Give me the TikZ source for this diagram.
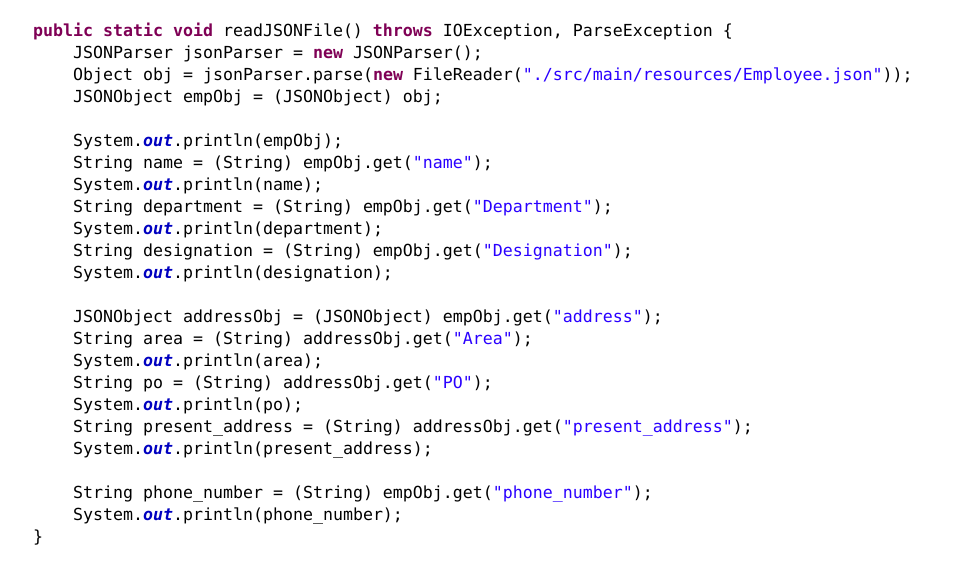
\documentclass[tikz,border=0pt]{standalone}
\usepackage{fontspec}
\setmonofont{DejaVu Sans Mono}
\definecolor{kwc}{HTML}{7F0055}
\definecolor{stc}{HTML}{2A00FF}
\definecolor{ouc}{HTML}{0000C0}
\newcommand{\kw}[1]{\textcolor{kwc}{\bfseries #1}}
\newcommand{\sq}[1]{\textcolor{stc}{"#1"}}
\newcommand{\ou}{\textcolor{ouc}{\bfseries\itshape out}}
\begin{document}
\begin{tikzpicture}[x=1pt,y=1pt,
  code/.style={anchor=mid west,inner sep=0pt,font=\fontsize{16.6}{20}\ttfamily}]
\useasboundingbox[fill=white] (0,0) rectangle (955,563);
\def\L#1#2#3{\node[code] (l#1) at (#2,{563-34-22*#1}) {#3};}
\L{0}{33}{\kw{public} \kw{static} \kw{void} readJSONFile() \kw{throws} IOException, ParseException \{}
\L{1}{73}{JSONParser jsonParser = \kw{new} JSONParser();}
\L{2}{73}{Object obj = jsonParser.parse(\kw{new} FileReader(\sq{./src/main/resources/Employee.json}));}
\L{3}{73}{JSONObject empObj = (JSONObject) obj;}
\L{5}{73}{System.\ou.println(empObj);}
\L{6}{73}{String name = (String) empObj.get(\sq{name});}
\L{7}{73}{System.\ou.println(name);}
\L{8}{73}{String department = (String) empObj.get(\sq{Department});}
\L{9}{73}{System.\ou.println(department);}
\L{10}{73}{String designation = (String) empObj.get(\sq{Designation});}
\L{11}{73}{System.\ou.println(designation);}
\L{13}{73}{JSONObject addressObj = (JSONObject) empObj.get(\sq{address});}
\L{14}{73}{String area = (String) addressObj.get(\sq{Area});}
\L{15}{73}{System.\ou.println(area);}
\L{16}{73}{String po = (String) addressObj.get(\sq{PO});}
\L{17}{73}{System.\ou.println(po);}
\L{18}{73}{String present\_address = (String) addressObj.get(\sq{present\_address});}
\L{19}{73}{System.\ou.println(present\_address);}
\L{21}{73}{String phone\_number = (String) empObj.get(\sq{phone\_number});}
\L{22}{73}{System.\ou.println(phone\_number);}
\L{23}{33}{\}}
\end{tikzpicture}
\end{document}
